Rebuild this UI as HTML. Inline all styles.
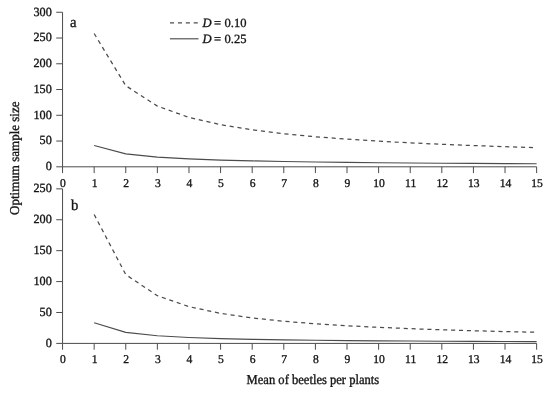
<!DOCTYPE html>
<html><head><meta charset="utf-8"><title>Optimum sample size</title>
<style>
html,body{margin:0;padding:0;background:#fff;}
svg{display:block}
text{font-family:"Liberation Serif",serif;font-size:12.57px;fill:#151515;stroke:#151515;stroke-width:0.33;text-rendering:geometricPrecision;}
.ax{stroke:#4c4c4c;stroke-width:1.0;fill:none;}
.ln{stroke:#4c4c4c;stroke-width:1.15;fill:none;stroke-linejoin:round;}
.ds{stroke-dasharray:4.1 3.8;stroke-width:1.25;}
</style></head><body>
<svg width="550" height="395" viewBox="0 0 550 395">
<rect width="550" height="395" fill="#fff"/>
<path class="ax" d="M62.55 12.26V166.80H536.64"/>
<text transform="translate(51.75,170.25) scale(1,1.02)" text-anchor="end" style="font-size:12.2px">0</text>
<text transform="translate(51.75,144.49) scale(1,1.02)" text-anchor="end" style="font-size:12.2px">50</text>
<text transform="translate(51.75,118.74) scale(1,1.02)" text-anchor="end" style="font-size:12.2px">100</text>
<text transform="translate(51.75,92.98) scale(1,1.02)" text-anchor="end" style="font-size:12.2px">150</text>
<text transform="translate(51.75,67.22) scale(1,1.02)" text-anchor="end" style="font-size:12.2px">200</text>
<text transform="translate(51.75,41.47) scale(1,1.02)" text-anchor="end" style="font-size:12.2px">250</text>
<text transform="translate(51.75,15.71) scale(1,1.02)" text-anchor="end" style="font-size:12.2px">300</text>
<text transform="translate(62.95,186.70) scale(1,1.03)" text-anchor="middle" style="font-size:11.6px">0</text>
<text transform="translate(94.56,186.70) scale(1,1.03)" text-anchor="middle" style="font-size:11.6px">1</text>
<text transform="translate(126.16,186.70) scale(1,1.03)" text-anchor="middle" style="font-size:11.6px">2</text>
<text transform="translate(157.77,186.70) scale(1,1.03)" text-anchor="middle" style="font-size:11.6px">3</text>
<text transform="translate(189.37,186.70) scale(1,1.03)" text-anchor="middle" style="font-size:11.6px">4</text>
<text transform="translate(220.98,186.70) scale(1,1.03)" text-anchor="middle" style="font-size:11.6px">5</text>
<text transform="translate(252.59,186.70) scale(1,1.03)" text-anchor="middle" style="font-size:11.6px">6</text>
<text transform="translate(284.19,186.70) scale(1,1.03)" text-anchor="middle" style="font-size:11.6px">7</text>
<text transform="translate(315.80,186.70) scale(1,1.03)" text-anchor="middle" style="font-size:11.6px">8</text>
<text transform="translate(347.40,186.70) scale(1,1.03)" text-anchor="middle" style="font-size:11.6px">9</text>
<text transform="translate(379.01,186.70) scale(1,1.03)" text-anchor="middle" style="font-size:11.6px">10</text>
<text transform="translate(410.62,186.70) scale(1,1.03)" text-anchor="middle" style="font-size:11.6px">11</text>
<text transform="translate(442.22,186.70) scale(1,1.03)" text-anchor="middle" style="font-size:11.6px">12</text>
<text transform="translate(473.83,186.70) scale(1,1.03)" text-anchor="middle" style="font-size:11.6px">13</text>
<text transform="translate(505.43,186.70) scale(1,1.03)" text-anchor="middle" style="font-size:11.6px">14</text>
<text transform="translate(537.04,186.70) scale(1,1.03)" text-anchor="middle" style="font-size:11.6px">15</text>
<path class="ax" d="M56.25 166.80H62.55M56.25 141.04H62.55M56.25 115.29H62.55M56.25 89.53H62.55M56.25 63.77H62.55M56.25 38.02H62.55M56.25 12.26H62.55M62.55 166.80V173.10M94.16 166.80V173.10M125.76 166.80V173.10M157.37 166.80V173.10M188.97 166.80V173.10M220.58 166.80V173.10M252.19 166.80V173.10M283.79 166.80V173.10M315.40 166.80V173.10M347.00 166.80V173.10M378.61 166.80V173.10M410.22 166.80V173.10M441.82 166.80V173.10M473.43 166.80V173.10M505.03 166.80V173.10M536.64 166.80V173.10"/>
<polyline class="ln ds" points="94.16,33.54 125.76,85.67 157.37,106.11 188.97,117.41 220.58,124.70 252.19,129.85 283.79,133.72 315.40,136.73 347.00,139.16 378.61,141.17 410.22,142.86 441.82,144.31 473.43,145.56 505.03,146.66 536.64,147.63"/>
<polyline class="ln" points="94.16,145.48 125.76,153.82 157.37,157.09 188.97,158.90 220.58,160.06 252.19,160.89 283.79,161.51 315.40,161.99 347.00,162.38 378.61,162.70 410.22,162.97 441.82,163.20 473.43,163.40 505.03,163.58 536.64,163.73"/>
<text transform="translate(70.00,27.00) scale(1,1.035)" text-anchor="start" style="font-size:14.7px">a</text>
<path class="ax" d="M62.55 188.85V343.40H536.64"/>
<text transform="translate(51.75,346.85) scale(1,1.02)" text-anchor="end" style="font-size:12.2px">0</text>
<text transform="translate(51.75,315.94) scale(1,1.02)" text-anchor="end" style="font-size:12.2px">50</text>
<text transform="translate(51.75,285.03) scale(1,1.02)" text-anchor="end" style="font-size:12.2px">100</text>
<text transform="translate(51.75,254.12) scale(1,1.02)" text-anchor="end" style="font-size:12.2px">150</text>
<text transform="translate(51.75,223.21) scale(1,1.02)" text-anchor="end" style="font-size:12.2px">200</text>
<text transform="translate(51.75,192.30) scale(1,1.02)" text-anchor="end" style="font-size:12.2px">250</text>
<text transform="translate(62.95,363.30) scale(1,1.03)" text-anchor="middle" style="font-size:11.6px">0</text>
<text transform="translate(94.56,363.30) scale(1,1.03)" text-anchor="middle" style="font-size:11.6px">1</text>
<text transform="translate(126.16,363.30) scale(1,1.03)" text-anchor="middle" style="font-size:11.6px">2</text>
<text transform="translate(157.77,363.30) scale(1,1.03)" text-anchor="middle" style="font-size:11.6px">3</text>
<text transform="translate(189.37,363.30) scale(1,1.03)" text-anchor="middle" style="font-size:11.6px">4</text>
<text transform="translate(220.98,363.30) scale(1,1.03)" text-anchor="middle" style="font-size:11.6px">5</text>
<text transform="translate(252.59,363.30) scale(1,1.03)" text-anchor="middle" style="font-size:11.6px">6</text>
<text transform="translate(284.19,363.30) scale(1,1.03)" text-anchor="middle" style="font-size:11.6px">7</text>
<text transform="translate(315.80,363.30) scale(1,1.03)" text-anchor="middle" style="font-size:11.6px">8</text>
<text transform="translate(347.40,363.30) scale(1,1.03)" text-anchor="middle" style="font-size:11.6px">9</text>
<text transform="translate(379.01,363.30) scale(1,1.03)" text-anchor="middle" style="font-size:11.6px">10</text>
<text transform="translate(410.62,363.30) scale(1,1.03)" text-anchor="middle" style="font-size:11.6px">11</text>
<text transform="translate(442.22,363.30) scale(1,1.03)" text-anchor="middle" style="font-size:11.6px">12</text>
<text transform="translate(473.83,363.30) scale(1,1.03)" text-anchor="middle" style="font-size:11.6px">13</text>
<text transform="translate(505.43,363.30) scale(1,1.03)" text-anchor="middle" style="font-size:11.6px">14</text>
<text transform="translate(537.04,363.30) scale(1,1.03)" text-anchor="middle" style="font-size:11.6px">15</text>
<path class="ax" d="M56.25 343.40H62.55M56.25 312.49H62.55M56.25 281.58H62.55M56.25 250.67H62.55M56.25 219.76H62.55M56.25 188.85H62.55M62.55 343.40V349.70M94.16 343.40V349.70M125.76 343.40V349.70M157.37 343.40V349.70M188.97 343.40V349.70M220.58 343.40V349.70M252.19 343.40V349.70M283.79 343.40V349.70M315.40 343.40V349.70M347.00 343.40V349.70M378.61 343.40V349.70M410.22 343.40V349.70M441.82 343.40V349.70M473.43 343.40V349.70M505.03 343.40V349.70M536.64 343.40V349.70"/>
<polyline class="ln ds" points="94.16,214.51 125.76,274.57 157.37,295.71 188.97,306.64 220.58,313.36 252.19,317.93 283.79,321.25 315.40,323.77 347.00,325.75 378.61,327.36 410.22,328.68 441.82,329.80 473.43,330.75 505.03,331.57 536.64,332.29"/>
<polyline class="ln" points="94.16,322.78 125.76,332.39 157.37,335.77 188.97,337.52 220.58,338.59 252.19,339.32 283.79,339.86 315.40,340.26 347.00,340.58 378.61,340.83 410.22,341.05 441.82,341.22 473.43,341.38 505.03,341.51 536.64,341.62"/>
<text transform="translate(70.90,210.20) scale(1,1.035)" text-anchor="start" style="font-size:14.7px">b</text>
<path class="ln ds" d="M170 22.95H198.5"/>
<path class="ln" d="M170 38.8H198.5"/>
<text transform="translate(202.50,27.00) scale(1,1.0)" text-anchor="start"><tspan font-style="italic">D</tspan><tspan dx="-0.8"> = </tspan><tspan dx="0.3">0.10</tspan></text>
<text transform="translate(202.50,42.60) scale(1,1.0)" text-anchor="start"><tspan font-style="italic">D</tspan><tspan dx="-0.8"> = </tspan><tspan dx="0.3">0.25</tspan></text>
<text transform="translate(18.9,158.2) rotate(-90) scale(1,1.04)" text-anchor="middle" style="font-size:13px">Optimum sample size</text>
<text transform="translate(312.90,384.00) scale(1,1.084)" text-anchor="middle">Mean of beetles per plants</text>
</svg></body></html>
